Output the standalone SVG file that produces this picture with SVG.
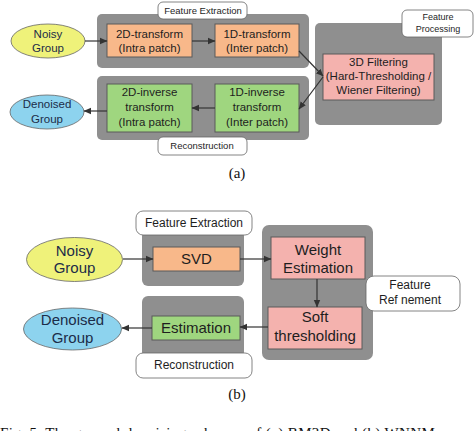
<svg xmlns="http://www.w3.org/2000/svg" width="474" height="431" viewBox="0 0 474 431">
<style>
text{font-family:"Liberation Sans",Arial,sans-serif;fill:#1e1e1e;text-anchor:middle}
.grp{fill:#8f8f8f}
.or{fill:#f8b88a;stroke:#5a5a5a;stroke-width:1}
.gr{fill:#9fd67f;stroke:#5a5a5a;stroke-width:1}
.pk{fill:#f4b2ae;stroke:#5a5a5a;stroke-width:1}
.lbl{fill:#fff;stroke:#666;stroke-width:0.8}
.ye{fill:#eff27a;stroke:#666;stroke-width:0.8}
.bl{fill:#8dd3ee;stroke:#666;stroke-width:0.8}
.a{font-size:11.5px}
.b{font-size:15px}
.et{fill:#1c2c48}
.con line{stroke:#333;stroke-width:1.2;marker-end:url(#ah)}
.cap{font-family:"Liberation Serif","Times New Roman",serif;font-size:15px;fill:#111}
</style>
<defs>
<marker id="ah" markerWidth="8" markerHeight="8" refX="7" refY="4" orient="auto" markerUnits="userSpaceOnUse">
<path d="M0,0.8 L7.5,4 L0,7.2 z" fill="#333"/>
</marker>
</defs>

<!-- (a) -->
<g id="a-fe-bg"><rect class="grp" x="97" y="14" width="212" height="54" rx="5"/></g>
<g id="a-rec-bg"><rect class="grp" x="97" y="76" width="212" height="64" rx="5"/></g>
<g id="a-fp-bg"><rect class="grp" x="315" y="23" width="127" height="102" rx="5"/></g>

<g id="a-fe-label"><rect class="lbl" x="158" y="2" width="89" height="17" rx="5"/><text x="203" y="14" style="font-size:9.5px">Feature Extraction</text></g>
<g id="a-rec-label"><rect class="lbl" x="158" y="137" width="89" height="18" rx="5"/><text x="202" y="149" style="font-size:9.5px">Reconstruction</text></g>
<g id="a-fp-label"><rect class="lbl" x="402" y="10" width="71" height="27" rx="5"/><text x="438" y="20" style="font-size:9px">Feature</text><text x="438" y="32" style="font-size:9px">Processing</text></g>

<g id="a-noisy"><ellipse class="ye" cx="48" cy="41" rx="37" ry="17"/><text class="a et" x="48" y="38">Noisy</text><text class="a et" x="48" y="52">Group</text></g>
<g id="a-denoised"><ellipse class="bl" cx="47" cy="112" rx="37" ry="17"/><text class="a et" x="47" y="108">Denoised</text><text class="a et" x="47" y="123">Group</text></g>

<g id="a-2d"><rect class="or" x="107" y="24" width="85" height="33"/><text class="a" x="149.5" y="37.5">2D-transform</text><text class="a" x="149.5" y="52">(Intra patch)</text></g>
<g id="a-1d"><rect class="or" x="215" y="24" width="84" height="33"/><text class="a" x="257" y="37.5">1D-transform</text><text class="a" x="257" y="52">(Inter patch)</text></g>
<g id="a-2di"><rect class="gr" x="107" y="84" width="85" height="48"/><text class="a" x="149.5" y="96">2D-inverse</text><text class="a" x="149.5" y="111">transform</text><text class="a" x="149.5" y="126">(Intra patch)</text></g>
<g id="a-1di"><rect class="gr" x="215" y="84" width="84" height="48"/><text class="a" x="257" y="96">1D-inverse</text><text class="a" x="257" y="111">transform</text><text class="a" x="257" y="126">(Inter patch)</text></g>
<g id="a-3d"><rect class="pk" x="323" y="54" width="111" height="46"/><text class="a" x="378.5" y="66">3D Filtering</text><text class="a" x="378.5" y="80">(Hard-Thresholding /</text><text class="a" x="378.5" y="94">Wiener Filtering)</text></g>

<text class="cap" x="237" y="178">(a)</text>

<!-- (b) -->
<g id="b-fe-bg"><rect class="grp" x="142" y="230" width="102" height="56" rx="6"/></g>
<g id="b-rec-bg"><rect class="grp" x="142" y="296" width="102" height="62" rx="6"/></g>
<g id="b-fr-bg"><rect class="grp" x="262" y="225" width="111" height="135" rx="7"/></g>

<g id="b-fe-label"><rect class="lbl" x="136" y="211" width="116" height="24" rx="7"/><text x="194" y="227" style="font-size:12px">Feature Extraction</text></g>
<g id="b-rec-label"><rect class="lbl" x="136" y="353" width="116" height="25" rx="7"/><text x="194" y="369" style="font-size:12px">Reconstruction</text></g>
<g id="b-fr-label"><rect class="lbl" x="366" y="276" width="94" height="35" rx="8"/><text x="410" y="289" style="font-size:12px">Feature</text><text x="410" y="304" style="font-size:12px">Ref nement</text></g>

<g id="b-noisy"><ellipse class="ye" cx="74.5" cy="259.5" rx="48" ry="22"/><text class="b et" x="74.5" y="256">Noisy</text><text class="b et" x="74.5" y="273">Group</text></g>
<g id="b-denoised"><ellipse class="bl" cx="72.5" cy="329" rx="49" ry="21"/><text class="b et" x="72.5" y="325">Denoised</text><text class="b et" x="72.5" y="343">Group</text></g>

<g id="b-svd"><rect class="or" x="153" y="247" width="87" height="24"/><text class="b" x="196.5" y="264">SVD</text></g>
<g id="b-est"><rect class="gr" x="152" y="316" width="88" height="24"/><text class="b" x="196" y="333">Estimation</text></g>
<g id="b-we"><rect class="pk" x="271" y="237" width="94" height="42"/><text class="b" x="318" y="255">Weight</text><text class="b" x="318" y="273">Estimation</text></g>
<g id="b-st"><rect class="pk" x="268" y="307" width="94" height="42"/><text class="b" x="315" y="322">Soft</text><text class="b" x="315" y="341">thresholding</text></g>

<text class="cap" x="237" y="399">(b)</text>

<g id="connectors" class="con">
<line x1="85" y1="41" x2="107" y2="41"/>
<line x1="192" y1="41" x2="215" y2="41"/>
<line x1="299" y1="51" x2="323" y2="76"/>
<line x1="323" y1="77" x2="299" y2="109"/>
<line x1="215" y1="108" x2="192" y2="108"/>
<line x1="107" y1="111" x2="84" y2="111"/>
<line x1="123" y1="259" x2="153" y2="259"/>
<line x1="240" y1="259" x2="271" y2="259"/>
<line x1="317" y1="279" x2="317" y2="307"/>
<line x1="268" y1="327" x2="240" y2="327"/>
<line x1="152" y1="328" x2="122" y2="328"/>
</g>

<text class="cap" x="0" y="437.5" style="text-anchor:start" textLength="439" lengthAdjust="spacing">Fig. 5.   The general denoising schemes of (a) BM3D and (b) WNNM.</text>
</svg>
